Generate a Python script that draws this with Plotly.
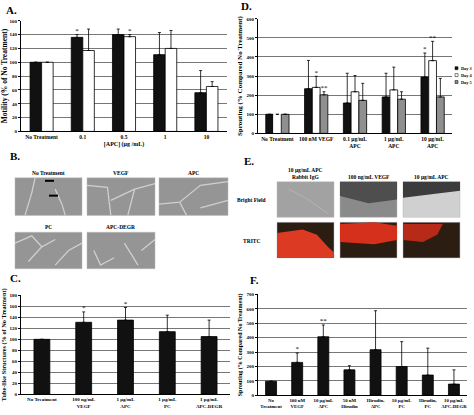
import plotly.graph_objects as go

W, H = 474, 415
SERIF = "Liberation Serif"

# ---- A: motility, black / white bars per APC dose
a_cats = ["No Treatment", "0.1", "0.5", "1", "10"]
a_black = [100, 136, 140, 111, 56]
a_black_err = [0, 4, 8, 32, 32]
a_white = [100, 117, 137, 120, 65]
a_white_err = [0, 31, 3, 26, 7]
a_black_star = ["", "*", "", "", ""]
a_white_star = ["", "", "*", "", ""]

# ---- D: sprouting by day
d_cats = ["No Treatment", "100 nM VEGF", "0.1 μg/mL<br>APC", "1 μg/mL<br>APC", "10 μg/mL<br>APC"]
d_day3 = [100, 234, 159, 191, 295]
d_day3_err = [0, 148, 156, 124, 126]
d_day4 = [100, 241, 218, 228, 381]
d_day4_err = [0, 58, 85, 119, 101]
d_day5 = [100, 202, 173, 179, 191]
d_day5_err = [0, 16, 89, 39, 97]
d_day3_star = ["", "", "", "", "*"]
d_day4_star = ["", "*", "", "", "**"]
d_day5_star = ["", "**", "", "", ""]
d_days = ["Day 3", "Day 4", "Day 5"]

# ---- C: tube-like structures
c_cats = ["No Treatment", "100 ng/mL<br>VEGF", "1 μg/mL<br>APC", "1 μg/mL<br>PC", "1 μg/mL<br>APC-DEGR"]
c_vals = [100, 131, 135, 114, 105]
c_err = [0, 19, 23, 30, 30]
c_star = ["", "*", "*", "", ""]

# ---- F: sprouting with hirudin
f_cats = ["No<br>Treatment", "100 nM<br>VEGF", "10 μg/mL<br>APC", "50 nM<br>Hirudin",
          "Hirudin,<br>APC", "10 μg/mL<br>PC", "Hirudin,<br>PC", "10 μg/mL<br>APC-DEGR"]
f_vals = [97, 228, 406, 176, 316, 199, 140, 77]
f_err = [0, 65, 82, 29, 271, 173, 187, 99]
f_star = ["", "*", "**", "", "", "", "", ""]

# image panel captions
b_titles = ["No Treatment", "VEGF", "APC", "PC", "APC-DEGR"]
e_cols = ["10 μg/mL APC<br>Rabbit IgG", "100 ng/mL VEGF", "10 μg/mL APC"]
e_rows = ["Bright Field", "TRITC"]


def px(x):
    return x / W


def py(y):
    return 1 - y / H


fig = go.Figure()


def add_bars(vals, errs, stars, color, offset, width, ax, line_colors="black"):
    n = len(vals)
    xs = list(range(n))
    fig.add_trace(go.Bar(
        x=xs, y=vals, width=width, offset=offset,
        marker=dict(color=color, line=dict(color=line_colors, width=0.8)),
        error_y=dict(type="data", array=errs, arrayminus=[0] * n, symmetric=False,
                     color="black", thickness=0.8, width=1.5),
        xaxis="x" + ax, yaxis="y" + ax, showlegend=False, hoverinfo="skip",
    ))
    fig.add_trace(go.Scatter(
        x=[i + offset + width / 2 for i in xs],
        y=[v + e for v, e in zip(vals, errs)],
        mode="text", text=stars, textposition="top center",
        textfont=dict(family=SERIF, size=7, color="black"),
        xaxis="x" + ax, yaxis="y" + ax, showlegend=False, hoverinfo="skip",
    ))


add_bars(a_black, a_black_err, a_black_star, "#111111", -0.28, 0.28, "")
add_bars(a_white, a_white_err, a_white_star, "white", 0.0, 0.28, "")

add_bars(d_day3, d_day3_err, d_day3_star, "#111111", -0.3, 0.2, "2")
add_bars(d_day4, d_day4_err, d_day4_star, "white", -0.1, 0.2, "2",
         line_colors=["white", "black", "black", "black", "black"])
add_bars(d_day5, d_day5_err, d_day5_star, "#8f8f8f", 0.1, 0.2, "2")

add_bars(c_vals, c_err, c_star, "#111111", -0.19, 0.38, "3")
add_bars(f_vals, f_err, f_star, "#111111", -0.21, 0.42, "4")

tick_font = dict(family=SERIF, size=5, color="black", weight="bold")


def xax(dom, cats, anchor, title=None, size=5.5):
    d = dict(domain=[px(dom[0]), px(dom[1])], range=[-0.5, len(cats) - 0.5],
             tickvals=list(range(len(cats))), ticktext=cats, tickangle=0,
             tickfont=dict(family=SERIF, size=size, color="black", weight="bold"),
             showline=True, linecolor="black", linewidth=0.8, showgrid=False,
             zeroline=False, ticks="", fixedrange=True, anchor=anchor)
    if title:
        d["title"] = dict(text=title, font=dict(family=SERIF, size=6, color="black", weight="bold"),
                          standoff=2)
    return d


def yax(dom, top, step, title, anchor, tsize=7.5):
    return dict(domain=[py(dom[1]), py(dom[0])], range=[0, top], dtick=step,
                tickfont=tick_font, showline=True, linecolor="black", linewidth=0.8,
                showgrid=True, gridcolor="#777777", gridwidth=0.8, zeroline=False,
                ticks="outside", ticklen=2, tickwidth=0.8, tickcolor="black", anchor=anchor,
                title=dict(text=title, font=dict(family=SERIF, size=tsize, color="black",
                                                 weight="bold"), standoff=3),
                fixedrange=True)


fig.update_layout(
    width=W, height=H, margin=dict(l=0, r=0, t=0, b=0),
    paper_bgcolor="white", plot_bgcolor="white", barmode="overlay", showlegend=False,
    xaxis=xax((21, 227), a_cats, "y", "[APC] (μg /mL)"),
    yaxis=yax((19, 131), 160, 20, "Motility (% of No Treatment)", "x"),
    xaxis2=xax((258, 452), d_cats, "y2"),
    yaxis2=yax((17, 133), 600, 100, "Sprouting (% Compared No Treatment)", "x2", 7),
    xaxis3=xax((21, 230), c_cats, "y3", size=5),
    yaxis3=yax((297, 397), 180, 20, "Tube-like Structures (% of No Treatment)", "x3", 6.3),
    xaxis4=xax((258, 467), f_cats, "y4", size=4.8),
    yaxis4=yax((296, 398), 700, 100, "Sprouting (% Compared No Treatment)", "x4", 6),
)

ann = []


def label(x, y, text, size=6, align="center", xanchor="center", color="black"):
    ann.append(dict(x=px(x), y=py(y), xref="paper", yref="paper", text=text, showarrow=False,
                    xanchor=xanchor, yanchor="middle", align=align,
                    font=dict(family=SERIF, size=size, color=color, weight="bold")))


# panel letters
for letter, x, y in [("A.", 4, 8), ("B.", 8, 156), ("C.", 8, 279),
                     ("D.", 239, 4), ("E.", 242, 161), ("F.", 248, 281)]:
    label(x, y, letter, size=11, xanchor="left")

# legend of D, squares plus text
legend_cols = ["#111111", "white", "#8f8f8f"]
shapes = []
for i, (name, col) in enumerate(zip(d_days, legend_cols)):
    yy = 67 + i * 7
    shapes.append(dict(type="rect", xref="paper", yref="paper",
                       x0=px(455), x1=px(458), y0=py(yy + 1.5), y1=py(yy - 1.5),
                       fillcolor=col, line=dict(color="black", width=0.5)))
    label(459, yy, name, size=4.3, xanchor="left")


def rect(x0, y0, x1, y1, fill, line="#bbbbbb"):
    shapes.append(dict(type="rect", xref="paper", yref="paper", x0=px(x0), x1=px(x1),
                       y0=py(y1), y1=py(y0), fillcolor=fill, line=dict(color=line, width=0.5),
                       layer="above"))


def poly(box, pts, fill=None, line=None, width=1.2, closed=True):
    x0, y0, x1, y1 = box
    p = " L ".join(f"{px(x0 + (x1 - x0) * u):.4f} {py(y0 + (y1 - y0) * v):.4f}" for u, v in pts)
    path = "M " + p + (" Z" if closed else "")
    s = dict(type="path", xref="paper", yref="paper", path=path, layer="above",
             line=dict(color=line or "rgba(0,0,0,0)", width=width if line else 0))
    if fill:
        s["fillcolor"] = fill
    shapes.append(s)


# ---- B: tube formation micrographs
b_boxes = [(15, 178, 82, 216), (87, 178, 155, 216), (159, 178, 228, 216),
           (15, 233, 82, 270), (87, 233, 155, 270)]
b_tubes = [
    [[(0.3, 0), (0.25, 0.4), (0.15, 1)], [(0.6, 0.3), (0.7, 0.7), (0.75, 1)]],
    [[(0, 0.2), (0.3, 0.25), (0.35, 1)], [(0.35, 0.6), (0.7, 0.3), (1, 0.15)], [(0.6, 1), (0.7, 0.3)]],
    [[(0, 0.7), (0.3, 0.65), (0.6, 0.2), (1, 0.1)], [(0.3, 0.65), (0.4, 1)], [(0.6, 0.8), (1, 0.6)]],
    [[(0, 0.3), (0.25, 0.1), (0.4, 0.4), (0.2, 0.8)], [(0.4, 0.4), (0.6, 0.2)], [(0.6, 0.9), (0.8, 0.5), (1, 0.3)]],
    [[(0.1, 0.5), (0.2, 0.9), (0.4, 0.7)], [(0.55, 0.3), (0.75, 0.9)], [(0.8, 0.5), (1, 0.2)]],
]
for box, title, tubes in zip(b_boxes, b_titles, b_tubes):
    rect(*box, "#959595")
    for t in tubes:
        poly(box, t, line="#cfcfcf", width=1.3, closed=False)
    label((box[0] + box[2]) / 2, box[1] - 5, title, size=5.5)
# scale bars
shapes.append(dict(type="rect", xref="paper", yref="paper", x0=px(45), x1=px(54),
                   y0=py(182), y1=py(180), fillcolor="black", line=dict(width=0), layer="above"))
shapes.append(dict(type="rect", xref="paper", yref="paper", x0=px(49), x1=px(58),
                   y0=py(197), y1=py(195), fillcolor="black", line=dict(width=0), layer="above"))

# ---- E: explant images
e_x = [(277, 334), (340, 397), (403, 460)]
for (x0, x1), title in zip(e_x, e_cols):
    label((x0 + x1) / 2, 174 if "<br>" in title else 177, title, size=5.5)
label(252, 200, e_rows[0], size=5.5)
label(252, 242, e_rows[1], size=5.5)

rect(277, 182, 334, 218, "#a2a2a2")
poly((277, 182, 334, 218), [(0.2, 0.2), (0.5, 0.45), (0.9, 0.9)], line="#b8b8b8", width=0.8, closed=False)
rect(340, 182, 397, 218, "#8a8a8a")
poly((340, 182, 397, 218), [(0, 0), (1, 0), (1, 0.5), (0.5, 0.6), (0, 0.4)], fill="#4e4e4e")
rect(403, 182, 460, 218, "#d0d0d0")
poly((403, 182, 460, 218), [(0, 0), (1, 0), (1, 0.25), (0.5, 0.35), (0, 0.45)], fill="#3c3c3c")

rect(277, 223, 334, 259, "#2b1d12")
poly((277, 223, 334, 259), [(0, 0.3), (0.45, 0.2), (0.7, 0.35), (0.9, 0.7), (1, 0.85), (1, 1), (0, 1)],
     fill="#dd3a24")
rect(340, 223, 397, 259, "#2b1d12")
poly((340, 223, 397, 259), [(0, 0.05), (0.6, 0), (1, 0.1), (1, 0.5), (0.6, 0.62), (0, 0.55)],
     fill="#d4301c")
rect(403, 223, 460, 259, "#2b1d12")
poly((403, 223, 460, 259), [(0, 0.05), (0.7, 0.05), (0.6, 0.35), (0.35, 0.55), (0, 0.5)],
     fill="#b82a18")

fig.update_layout(annotations=ann, shapes=shapes)
# the page body has a default 8px margin, drop it so the figure sits at the window corner
fig.write_html("out.html", config={"displayModeBar": False},
               post_script="document.body.style.margin='0';")
